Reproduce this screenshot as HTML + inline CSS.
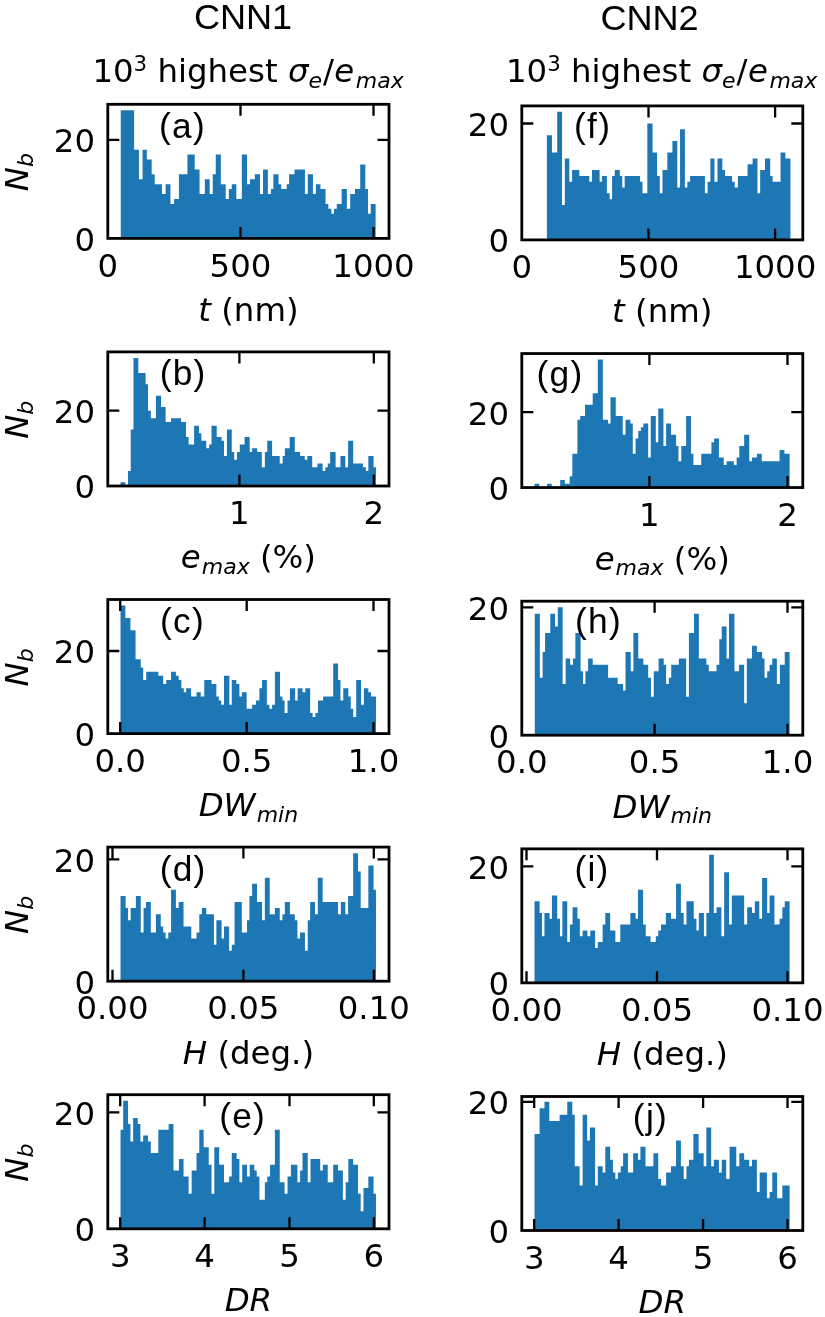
<!DOCTYPE html>
<html><head><meta charset="utf-8"><title>Histograms CNN1 CNN2</title>
<style>
html,body{margin:0;padding:0;background:#fff}
svg{display:block}
.dj{font-family:"DejaVu Sans","Liberation Sans",sans-serif;font-size:32.4px;fill:#000}
.ar{font-family:"Liberation Sans",sans-serif;fill:#000}
.it{font-style:italic}
.sb{font-size:22.0px;font-style:italic}
</style></head><body>
<svg width="825" height="1317" viewBox="0 0 825 1317">
<rect width="825" height="1317" fill="#fff"/>
<defs><filter id="soft" x="0" y="0" width="100%" height="100%" filterUnits="userSpaceOnUse"><feGaussianBlur stdDeviation="0.6"/></filter></defs>
<g filter="url(#soft)">
<text class="ar" transform="translate(243 29.2) scale(1.025 1)" font-size="35.2" text-anchor="middle">CNN1</text>
<text class="ar" transform="translate(649.5 29.5) scale(1.025 1)" font-size="35.2" text-anchor="middle">CNN2</text>
<text class="dj" x="92.4" y="82.2">10<tspan dy="-11" font-size="21.3">3</tspan><tspan dy="11"> highest </tspan><tspan class="it">σ</tspan><tspan class="sb" dy="5.6">e</tspan><tspan dy="-5.6" dx="1">/</tspan><tspan class="it" dx="0.4">e</tspan><tspan class="sb" dy="5.6" dx="1.6">max</tspan></text>
<text class="dj" x="506" y="82.2">10<tspan dy="-11" font-size="21.3">3</tspan><tspan dy="11"> highest </tspan><tspan class="it">σ</tspan><tspan class="sb" dy="5.6">e</tspan><tspan dy="-5.6" dx="1">/</tspan><tspan class="it" dx="0.4">e</tspan><tspan class="sb" dy="5.6" dx="1.6">max</tspan></text>
<g id="panel-a">
<path d="M120.76 238.4V110.22H134.09V238.4ZM134.09 238.4V149.66H138.94V238.4ZM138.94 238.4V179.24H142.58V238.4ZM142.58 238.4V149.66H146.82V238.4ZM146.82 238.4V159.52H151.67V238.4ZM151.67 238.4V174.31H154.7V238.4ZM154.7 238.4V184.17H161.97V238.4ZM161.97 238.4V194.03H165.61V238.4ZM165.61 238.4V184.17H170.45V238.4ZM170.45 238.4V203.89H174.09V238.4ZM174.09 238.4V198.96H178.94V238.4ZM178.94 238.4V174.31H187.42V238.4ZM187.42 238.4V154.59H194.7V238.4ZM194.7 238.4V169.38H199.55V238.4ZM199.55 238.4V194.03H204.85V238.4ZM204.85 238.4V179.24H209.7V238.4ZM209.7 238.4V194.03H212.73V238.4ZM212.73 238.4V174.31H215.76V238.4ZM215.76 238.4V154.59H220.85V238.4ZM220.85 238.4V184.17H225.7V238.4ZM225.7 238.4V198.96H228.85V238.4ZM228.85 238.4V189.1H231.76V238.4ZM231.76 238.4V184.17H236.36V238.4ZM236.36 238.4V198.96H241.82V238.4ZM241.82 238.4V154.59H247.03V238.4ZM247.03 238.4V184.17H249.94V238.4ZM249.94 238.4V179.24H254.79V238.4ZM254.79 238.4V174.31H260V238.4ZM260 238.4V194.03H263.03V238.4ZM263.03 238.4V169.38H267.88V238.4ZM267.88 238.4V194.03H270.91V238.4ZM270.91 238.4V189.1H273.33V238.4ZM273.33 238.4V174.31H278.55V238.4ZM278.55 238.4V184.17H281.21V238.4ZM281.21 238.4V189.1H286.67V238.4ZM286.67 238.4V184.17H289.09V238.4ZM289.09 238.4V174.31H294.55V238.4ZM294.55 238.4V169.38H304.94V238.4ZM304.94 238.4V194.03H307.73V238.4ZM307.73 238.4V174.31H312.94V238.4ZM312.94 238.4V194.03H315.85V238.4ZM315.85 238.4V184.17H320.45V238.4ZM320.45 238.4V189.1H325.55V238.4ZM325.55 238.4V203.89H328.33V238.4ZM328.33 238.4V208.82H331.36V238.4ZM331.36 238.4V213.75H334.03V238.4ZM334.03 238.4V208.82H336.82V238.4ZM336.82 238.4V203.89H341.67V238.4ZM341.67 238.4V189.1H346.88V238.4ZM346.88 238.4V208.82H350.15V238.4ZM350.15 238.4V194.03H355V238.4ZM355 238.4V189.1H360.21V238.4ZM360.21 238.4V164.45H365.3V238.4ZM365.3 238.4V189.1H367.97V238.4ZM367.97 238.4V213.75H370.76V238.4ZM370.76 238.4V203.89H375.61V238.4Z" fill="#1f77b4"/>
<path d="M240.5 238.4v-11.5M240.5 104.3v11.5M373.5 238.4v-11.5M373.5 104.3v11.5M107.8 139.8h11.5M389 139.8h-11.5" stroke="#000" stroke-width="2.3" fill="none"/>
<rect x="107.8" y="104.3" width="281.2" height="134.1" fill="none" stroke="#000" stroke-width="2.8"/>
<text class="dj" x="107.8" y="276.6" text-anchor="middle">0</text>
<text class="dj" x="240.5" y="276.6" text-anchor="middle">500</text>
<text class="dj" x="373.5" y="276.6" text-anchor="middle">1000</text>
<text class="dj" x="95" y="250.7" text-anchor="end">0</text>
<text class="dj" x="95" y="152.1" text-anchor="end">20</text>
<text class="dj" x="248.4" y="320.7" text-anchor="middle"><tspan class="it">t</tspan> (nm)</text>
<text class="dj" transform="translate(27.9 172.15) rotate(-90)" text-anchor="middle"><tspan class="it">N</tspan><tspan class="sb" dy="5.1">b</tspan></text>
<text class="ar" x="158.93" y="137.8" font-size="35.3" letter-spacing="1.3">(a)</text>
</g>
<g id="panel-b">
<path d="M120.52 486V482.24H125.36V486ZM125.36 486V486H128.03V486ZM128.03 486V470.94H130.7V486ZM130.7 486V429.52H133.48V486ZM133.48 486V357.99H138.33V486ZM138.33 486V373.05H145.61V486ZM145.61 486V384.34H148.03V486ZM148.03 486V410.7H150.82V486ZM150.82 486V418.23H155.91V486ZM155.91 486V395.64H161V486ZM161 486V406.94H165.61V486ZM165.61 486V422H171.06V486ZM171.06 486V418.23H181.12V486ZM181.12 486V422H185.97V486ZM185.97 486V437.06H188.64V486ZM188.64 486V444.58H194.09V486ZM194.09 486V425.76H198.94V486ZM198.94 486V433.29H201.36V486ZM201.36 486V440.82H206.3V486ZM206.3 486V448.35H209.09V486ZM209.09 486V444.58H211.52V486ZM211.52 486V425.76H216.73V486ZM216.73 486V437.06H221.58V486ZM221.58 486V440.82H224V486ZM224 486V455.88H226.91V486ZM226.91 486V429.52H231.76V486ZM231.76 486V452.12H234.18V486ZM234.18 486V459.64H236.97V486ZM236.97 486V452.12H239.76V486ZM239.76 486V444.58H244.61V486ZM244.61 486V437.06H249.7V486ZM249.7 486V452.12H252.12V486ZM252.12 486V448.35H257.21V486ZM257.21 486V452.12H261.82V486ZM261.82 486V467.18H264.85V486ZM264.85 486V452.12H267.27V486ZM267.27 486V440.82H272.12V486ZM272.12 486V455.88H279.76V486ZM279.76 486V463.41H282.67V486ZM282.67 486V455.88H284.85V486ZM284.85 486V448.35H289.7V486ZM289.7 486V437.06H294.79V486ZM294.79 486V452.12H300.09V486ZM300.09 486V455.88H304.7V486ZM304.7 486V459.64H307.36V486ZM307.36 486V455.88H312.21V486ZM312.21 486V467.18H317.42V486ZM317.42 486V463.41H322.64V486ZM322.64 486V470.94H325.3V486ZM325.3 486V467.18H327.73V486ZM327.73 486V463.41H330.15V486ZM330.15 486V452.12H335.61V486ZM335.61 486V467.18H340.45V486ZM340.45 486V455.88H345.3V486ZM345.3 486V467.18H348.09V486ZM348.09 486V440.82H353.18V486ZM353.18 486V463.41H362.88V486ZM362.88 486V467.18H365.91V486ZM365.91 486V470.94H368.33V486ZM368.33 486V455.88H373.55V486ZM373.55 486V467.18H375.97V486Z" fill="#1f77b4"/>
<path d="M239.4 486v-11.5M239.4 351.9v11.5M373.8 486v-11.5M373.8 351.9v11.5M107.8 410.7h11.5M389 410.7h-11.5" stroke="#000" stroke-width="2.3" fill="none"/>
<rect x="107.8" y="351.9" width="281.2" height="134.1" fill="none" stroke="#000" stroke-width="2.8"/>
<text class="dj" x="239.4" y="524.2" text-anchor="middle">1</text>
<text class="dj" x="373.8" y="524.2" text-anchor="middle">2</text>
<text class="dj" x="95" y="498.3" text-anchor="end">0</text>
<text class="dj" x="95" y="423" text-anchor="end">20</text>
<text class="dj" x="248.4" y="568.3" text-anchor="middle"><tspan class="it">e</tspan><tspan class="sb" dy="5.6" dx="1">max</tspan><tspan dy="-5.6"> (%)</tspan></text>
<text class="dj" transform="translate(27.9 419.75) rotate(-90)" text-anchor="middle"><tspan class="it">N</tspan><tspan class="sb" dy="5.1">b</tspan></text>
<text class="ar" x="159.63" y="385.4" font-size="35.3" letter-spacing="1.3">(b)</text>
</g>
<g id="panel-c">
<path d="M120.52 733.6V605.57H125.36V733.6ZM125.36 733.6V617.96H130.45V733.6ZM130.45 733.6V630.35H135.55V733.6ZM135.55 733.6V659.26H140.76V733.6ZM140.76 733.6V667.52H143.18V733.6ZM143.18 733.6V679.91H146.21V733.6ZM146.21 733.6V671.65H158.33V733.6ZM158.33 733.6V675.78H163.18V733.6ZM163.18 733.6V684.04H166.21V733.6ZM166.21 733.6V679.91H171.06V733.6ZM171.06 733.6V671.65H175.91V733.6ZM175.91 733.6V675.78H178.7V733.6ZM178.7 733.6V679.91H181.36V733.6ZM181.36 733.6V688.17H183.79V733.6ZM183.79 733.6V692.3H186.21V733.6ZM186.21 733.6V688.17H191.06V733.6ZM191.06 733.6V696.43H196.52V733.6ZM196.52 733.6V692.3H200.76V733.6ZM200.76 733.6V696.43H204.24V733.6ZM204.24 733.6V679.91H211.52V733.6ZM211.52 733.6V684.04H216.36V733.6ZM216.36 733.6V696.43H218.79V733.6ZM218.79 733.6V700.56H221.21V733.6ZM221.21 733.6V704.69H224V733.6ZM224 733.6V675.78H229.33V733.6ZM229.33 733.6V704.69H231.76V733.6ZM231.76 733.6V679.91H236.36V733.6ZM236.36 733.6V684.04H239.39V733.6ZM239.39 733.6V696.43H241.82V733.6ZM241.82 733.6V692.3H246.67V733.6ZM246.67 733.6V708.82H252.12V733.6ZM252.12 733.6V704.69H256V733.6ZM256 733.6V700.56H259.39V733.6ZM259.39 733.6V688.17H262.06V733.6ZM262.06 733.6V679.91H266.91V733.6ZM266.91 733.6V704.69H269.33V733.6ZM269.33 733.6V708.82H272.12V733.6ZM272.12 733.6V704.69H274.91V733.6ZM274.91 733.6V671.65H280V733.6ZM280 733.6V696.43H282.42V733.6ZM282.42 733.6V700.56H284.61V733.6ZM284.61 733.6V712.95H287.52V733.6ZM287.52 733.6V700.56H289.94V733.6ZM289.94 733.6V688.17H295.15V733.6ZM295.15 733.6V700.56H297.67V733.6ZM297.67 733.6V688.17H302.52V733.6ZM302.52 733.6V692.3H305.3V733.6ZM305.3 733.6V688.17H310.15V733.6ZM310.15 733.6V712.95H312.58V733.6ZM312.58 733.6V717.08H315.36V733.6ZM315.36 733.6V712.95H318.03V733.6ZM318.03 733.6V700.56H323.12V733.6ZM323.12 733.6V696.43H333.18V733.6ZM333.18 733.6V663.39H338.03V733.6ZM338.03 733.6V679.91H340.45V733.6ZM340.45 733.6V700.56H343.24V733.6ZM343.24 733.6V688.17H348.33V733.6ZM348.33 733.6V696.43H350.76V733.6ZM350.76 733.6V708.82H353.18V733.6ZM353.18 733.6V717.08H356.21V733.6ZM356.21 733.6V679.91H361.06V733.6ZM361.06 733.6V704.69H363.85V733.6ZM363.85 733.6V688.17H368.33V733.6ZM368.33 733.6V692.3H371.12V733.6ZM371.12 733.6V696.43H375.97V733.6Z" fill="#1f77b4"/>
<path d="M120.2 733.6v-11.5M120.2 599.5v11.5M246.7 733.6v-11.5M246.7 599.5v11.5M373.5 733.6v-11.5M373.5 599.5v11.5M107.8 651h11.5M389 651h-11.5" stroke="#000" stroke-width="2.3" fill="none"/>
<rect x="107.8" y="599.5" width="281.2" height="134.1" fill="none" stroke="#000" stroke-width="2.8"/>
<text class="dj" x="120.2" y="771.8" text-anchor="middle">0.0</text>
<text class="dj" x="246.7" y="771.8" text-anchor="middle">0.5</text>
<text class="dj" x="373.5" y="771.8" text-anchor="middle">1.0</text>
<text class="dj" x="95" y="745.9" text-anchor="end">0</text>
<text class="dj" x="95" y="663.3" text-anchor="end">20</text>
<text class="dj" x="248.4" y="815.9" text-anchor="middle"><tspan class="it">DW</tspan><tspan class="sb" dy="5.6" dx="1">min</tspan></text>
<text class="dj" transform="translate(27.9 667.35) rotate(-90)" text-anchor="middle"><tspan class="it">N</tspan><tspan class="sb" dy="5.1">b</tspan></text>
<text class="ar" x="159.92" y="633" font-size="35.3" letter-spacing="1.3">(c)</text>
</g>
<g id="panel-d">
<path d="M120.52 981.2V895.94H125.61V981.2ZM125.61 981.2V908.12H128.03V981.2ZM128.03 981.2V920.3H130.7V981.2ZM130.7 981.2V908.12H135.91V981.2ZM135.91 981.2V895.94H140.76V981.2ZM140.76 981.2V932.48H143.55V981.2ZM143.55 981.2V908.12H145.97V981.2ZM145.97 981.2V902.03H150.82V981.2ZM150.82 981.2V932.48H155.91V981.2ZM155.91 981.2V914.21H160.76V981.2ZM160.76 981.2V926.39H163.18V981.2ZM163.18 981.2V932.48H165.61V981.2ZM165.61 981.2V938.57H168.27V981.2ZM168.27 981.2V932.48H171.06V981.2ZM171.06 981.2V889.85H175.91V981.2ZM175.91 981.2V908.12H178.7V981.2ZM178.7 981.2V902.03H183.55V981.2ZM183.55 981.2V926.39H191.3V981.2ZM191.3 981.2V938.57H196.52V981.2ZM196.52 981.2V932.48H199.3V981.2ZM199.3 981.2V914.21H201.97V981.2ZM201.97 981.2V908.12H206.3V981.2ZM206.3 981.2V914.21H213.94V981.2ZM213.94 981.2V944.66H216.36V981.2ZM216.36 981.2V920.3H221.58V981.2ZM221.58 981.2V938.57H224V981.2ZM224 981.2V926.39H229.09V981.2ZM229.09 981.2V950.75H231.76V981.2ZM231.76 981.2V944.66H234.55V981.2ZM234.55 981.2V902.03H241.82V981.2ZM241.82 981.2V932.48H247.03V981.2ZM247.03 981.2V920.3H249.45V981.2ZM249.45 981.2V895.94H252.12V981.2ZM252.12 981.2V883.76H256.97V981.2ZM256.97 981.2V902.03H262.06V981.2ZM262.06 981.2V920.3H264.85V981.2ZM264.85 981.2V877.67H269.7V981.2ZM269.7 981.2V914.21H274.91V981.2ZM274.91 981.2V908.12H279.76V981.2ZM279.76 981.2V920.3H282.42V981.2ZM282.42 981.2V914.21H284.85V981.2ZM284.85 981.2V902.03H289.94V981.2ZM289.94 981.2V914.21H294.79V981.2ZM294.79 981.2V920.3H297.42V981.2ZM297.42 981.2V938.57H300.09V981.2ZM300.09 981.2V932.48H304.94V981.2ZM304.94 981.2V950.75H307.73V981.2ZM307.73 981.2V920.3H310.15V981.2ZM310.15 981.2V902.03H315V981.2ZM315 981.2V914.21H317.79V981.2ZM317.79 981.2V877.67H322.64V981.2ZM322.64 981.2V902.03H338.03V981.2ZM338.03 981.2V914.21H340.82V981.2ZM340.82 981.2V902.03H345.3V981.2ZM345.3 981.2V914.21H348.09V981.2ZM348.09 981.2V895.94H353.18V981.2ZM353.18 981.2V853.31H358.03V981.2ZM358.03 981.2V871.58H360.7V981.2ZM360.7 981.2V908.12H368.33V981.2ZM368.33 981.2V865.49H373.55V981.2ZM373.55 981.2V889.85H375.97V981.2Z" fill="#1f77b4"/>
<path d="M112.5 981.2v-11.5M112.5 847.1v11.5M243.4 981.2v-11.5M243.4 847.1v11.5M373.8 981.2v-11.5M373.8 847.1v11.5M107.8 859.4h11.5M389 859.4h-11.5" stroke="#000" stroke-width="2.3" fill="none"/>
<rect x="107.8" y="847.1" width="281.2" height="134.1" fill="none" stroke="#000" stroke-width="2.8"/>
<text class="dj" x="112.5" y="1019.4" text-anchor="middle">0.00</text>
<text class="dj" x="243.4" y="1019.4" text-anchor="middle">0.05</text>
<text class="dj" x="373.8" y="1019.4" text-anchor="middle">0.10</text>
<text class="dj" x="95" y="993.5" text-anchor="end">0</text>
<text class="dj" x="95" y="871.7" text-anchor="end">20</text>
<text class="dj" x="248.4" y="1063.5" text-anchor="middle"><tspan class="it">H</tspan> (deg.)</text>
<text class="dj" transform="translate(27.9 914.95) rotate(-90)" text-anchor="middle"><tspan class="it">N</tspan><tspan class="sb" dy="5.1">b</tspan></text>
<text class="ar" x="159.63" y="880.6" font-size="35.3" letter-spacing="1.3">(d)</text>
</g>
<g id="panel-e">
<path d="M120.52 1228.8V1129.77H123.18V1228.8ZM123.18 1228.8V1100.65H128.03V1228.8ZM128.03 1228.8V1123.95H130.45V1228.8ZM130.45 1228.8V1141.42H133.12V1228.8ZM133.12 1228.8V1118.12H137.73V1228.8ZM137.73 1228.8V1123.95H140.39V1228.8ZM140.39 1228.8V1141.42H143.18V1228.8ZM143.18 1228.8V1135.6H148.03V1228.8ZM148.03 1228.8V1141.42H150.82V1228.8ZM150.82 1228.8V1153.08H158.33V1228.8ZM158.33 1228.8V1129.77H168.64V1228.8ZM168.64 1228.8V1123.95H173.48V1228.8ZM173.48 1228.8V1170.55H178.94V1228.8ZM178.94 1228.8V1158.9H183.55V1228.8ZM183.55 1228.8V1176.38H188.64V1228.8ZM188.64 1228.8V1193.85H191.67V1228.8ZM191.67 1228.8V1170.55H196.52V1228.8ZM196.52 1228.8V1153.08H199.3V1228.8ZM199.3 1228.8V1129.77H203.64V1228.8ZM203.64 1228.8V1147.25H208.73V1228.8ZM208.73 1228.8V1164.72H211.52V1228.8ZM211.52 1228.8V1193.85H214.3V1228.8ZM214.3 1228.8V1147.25H219.15V1228.8ZM219.15 1228.8V1164.72H224V1228.8ZM224 1228.8V1182.2H229.09V1228.8ZM229.09 1228.8V1176.38H231.76V1228.8ZM231.76 1228.8V1153.08H236.61V1228.8ZM236.61 1228.8V1158.9H239.39V1228.8ZM239.39 1228.8V1182.2H242.18V1228.8ZM242.18 1228.8V1164.72H247.03V1228.8ZM247.03 1228.8V1176.38H249.7V1228.8ZM249.7 1228.8V1164.72H254.3V1228.8ZM254.3 1228.8V1170.55H256.73V1228.8ZM256.73 1228.8V1176.38H259.39V1228.8ZM259.39 1228.8V1199.67H264.85V1228.8ZM264.85 1228.8V1182.2H267.27V1228.8ZM267.27 1228.8V1176.38H270.06V1228.8ZM270.06 1228.8V1164.72H274.91V1228.8ZM274.91 1228.8V1129.77H279.76V1228.8ZM279.76 1228.8V1182.2H284.61V1228.8ZM284.61 1228.8V1193.85H287.52V1228.8ZM287.52 1228.8V1176.38H290.91V1228.8ZM290.91 1228.8V1164.72H296.97V1228.8ZM296.97 1228.8V1170.55H297V1228.8ZM297 1228.8V1164.72H297.42V1228.8ZM297.42 1228.8V1182.2H300.09V1228.8ZM300.09 1228.8V1170.55H302.52V1228.8ZM302.52 1228.8V1153.08H307.73V1228.8ZM307.73 1228.8V1182.2H310.52V1228.8ZM310.52 1228.8V1158.9H320.21V1228.8ZM320.21 1228.8V1170.55H322.88V1228.8ZM322.88 1228.8V1164.72H327.73V1228.8ZM327.73 1228.8V1182.2H333.18V1228.8ZM333.18 1228.8V1164.72H338.03V1228.8ZM338.03 1228.8V1170.55H342.88V1228.8ZM342.88 1228.8V1199.67H345.67V1228.8ZM345.67 1228.8V1182.2H348.33V1228.8ZM348.33 1228.8V1158.9H353.18V1228.8ZM353.18 1228.8V1164.72H358.03V1228.8ZM358.03 1228.8V1193.85H360.7V1228.8ZM360.7 1228.8V1211.33H363.48V1228.8ZM363.48 1228.8V1188.02H368.33V1228.8ZM368.33 1228.8V1176.38H373.55V1228.8ZM373.55 1228.8V1193.85H375.97V1228.8Z" fill="#1f77b4"/>
<path d="M120.2 1228.8v-11.5M120.2 1094.7v11.5M204.6 1228.8v-11.5M204.6 1094.7v11.5M289.5 1228.8v-11.5M289.5 1094.7v11.5M373.8 1228.8v-11.5M373.8 1094.7v11.5M107.8 1112.3h11.5M389 1112.3h-11.5" stroke="#000" stroke-width="2.3" fill="none"/>
<rect x="107.8" y="1094.7" width="281.2" height="134.1" fill="none" stroke="#000" stroke-width="2.8"/>
<text class="dj" x="120.2" y="1267" text-anchor="middle">3</text>
<text class="dj" x="204.6" y="1267" text-anchor="middle">4</text>
<text class="dj" x="289.5" y="1267" text-anchor="middle">5</text>
<text class="dj" x="373.8" y="1267" text-anchor="middle">6</text>
<text class="dj" x="95" y="1241.1" text-anchor="end">0</text>
<text class="dj" x="95" y="1124.6" text-anchor="end">20</text>
<text class="dj" x="248.4" y="1311.1" text-anchor="middle"><tspan class="it">DR</tspan></text>
<text class="dj" transform="translate(27.9 1162.55) rotate(-90)" text-anchor="middle"><tspan class="it">N</tspan><tspan class="sb" dy="5.1">b</tspan></text>
<text class="ar" x="219.13" y="1128.2" font-size="35.3" letter-spacing="1.3">(e)</text>
</g>
<g id="panel-f">
<path d="M546.88 239.9V135.14H551.97V239.9ZM551.97 239.9V152.6H557.18V239.9ZM557.18 239.9V111.86H562.03V239.9ZM562.03 239.9V204.98H564.82V239.9ZM564.82 239.9V158.42H569.3V239.9ZM569.3 239.9V181.7H572.09V239.9ZM572.09 239.9V170.06H579.36V239.9ZM579.36 239.9V175.88H589.3V239.9ZM589.3 239.9V181.7H591.97V239.9ZM591.97 239.9V170.06H599.61V239.9ZM599.61 239.9V181.7H602.03V239.9ZM602.03 239.9V175.88H606.88V239.9ZM606.88 239.9V193.34H609.67V239.9ZM609.67 239.9V199.16H612.09V239.9ZM612.09 239.9V175.88H614.76V239.9ZM614.76 239.9V170.06H619.82V239.9ZM619.82 239.9V175.88H622.24V239.9ZM622.24 239.9V187.52H624.67V239.9ZM624.67 239.9V175.88H640.06V239.9ZM640.06 239.9V181.7H642.48V239.9ZM642.48 239.9V193.34H647.33V239.9ZM647.33 239.9V123.5H652.55V239.9ZM652.55 239.9V152.6H657.03V239.9ZM657.03 239.9V175.88H659.82V239.9ZM659.82 239.9V193.34H662.48V239.9ZM662.48 239.9V170.06H667.33V239.9ZM667.33 239.9V152.6H672.42V239.9ZM672.42 239.9V140.96H677.27V239.9ZM677.27 239.9V187.52H680.06V239.9ZM680.06 239.9V129.32H684.91V239.9ZM684.91 239.9V187.52H687.33V239.9ZM687.33 239.9V181.7H690.12V239.9ZM690.12 239.9V175.88H704.91V239.9ZM704.91 239.9V193.34H707.58V239.9ZM707.58 239.9V181.7H710.36V239.9ZM710.36 239.9V158.42H714.45V239.9ZM714.45 239.9V181.7H717.48V239.9ZM717.48 239.9V158.42H722.33V239.9ZM722.33 239.9V170.06H725V239.9ZM725 239.9V175.88H732.03V239.9ZM732.03 239.9V181.7H734.7V239.9ZM734.7 239.9V187.52H737.85V239.9ZM737.85 239.9V175.88H747.55V239.9ZM747.55 239.9V164.24H752.64V239.9ZM752.64 239.9V158.42H757.48V239.9ZM757.48 239.9V193.34H760.15V239.9ZM760.15 239.9V170.06H765V239.9ZM765 239.9V158.42H770.21V239.9ZM770.21 239.9V175.88H772.64V239.9ZM772.64 239.9V181.7H780.52V239.9ZM780.52 239.9V152.6H785.36V239.9ZM785.36 239.9V158.42H790.45V239.9Z" fill="#1f77b4"/>
<path d="M648.5 239.9v-11.5M648.5 105.9v11.5M775.1 239.9v-11.5M775.1 105.9v11.5M521.8 123.5h11.5M802.8 123.5h-11.5" stroke="#000" stroke-width="2.3" fill="none"/>
<rect x="521.8" y="105.9" width="281" height="134" fill="none" stroke="#000" stroke-width="2.8"/>
<text class="dj" x="521.8" y="278.1" text-anchor="middle">0</text>
<text class="dj" x="648.5" y="278.1" text-anchor="middle">500</text>
<text class="dj" x="775.1" y="278.1" text-anchor="middle">1000</text>
<text class="dj" x="509" y="252.2" text-anchor="end">0</text>
<text class="dj" x="509" y="135.8" text-anchor="end">20</text>
<text class="dj" x="662.3" y="322.2" text-anchor="middle"><tspan class="it">t</tspan> (nm)</text>
<text class="ar" x="574.04" y="138" font-size="35.3" letter-spacing="1.3">(f)</text>
</g>
<g id="panel-g">
<path d="M534.52 487.55V483.78H539.36V487.55ZM539.36 487.55V487.55H547.12V487.55ZM547.12 487.55V483.78H551.73V487.55ZM551.73 487.55V487.55H560.21V487.55ZM560.21 487.55V480.01H564.82V487.55ZM564.82 487.55V483.78H569.67V487.55ZM569.67 487.55V476.25H572.33V487.55ZM572.33 487.55V453.64H577.42V487.55ZM577.42 487.55V419.74H580.21V487.55ZM580.21 487.55V415.97H585.06V487.55ZM585.06 487.55V404.66H592.7V487.55ZM592.7 487.55V393.36H597.79V487.55ZM597.79 487.55V359.45H602.88V487.55ZM602.88 487.55V419.74H608.09V487.55ZM608.09 487.55V423.5H610.52V487.55ZM610.52 487.55V397.13H615.73V487.55ZM615.73 487.55V415.97H622.73V487.55ZM622.73 487.55V434.81H625.52V487.55ZM625.52 487.55V419.74H630.36V487.55ZM630.36 487.55V423.5H632.79V487.55ZM632.79 487.55V453.64H635.58V487.55ZM635.58 487.55V438.57H638.24V487.55ZM638.24 487.55V431.04H640.91V487.55ZM640.91 487.55V427.27H643.33V487.55ZM643.33 487.55V423.5H648.18V487.55ZM648.18 487.55V457.41H650.73V487.55ZM650.73 487.55V415.97H655.82V487.55ZM655.82 487.55V442.34H658.24V487.55ZM658.24 487.55V408.43H663.45V487.55ZM663.45 487.55V446.11H666.12V487.55ZM666.12 487.55V423.5H670.97V487.55ZM670.97 487.55V434.81H676.06V487.55ZM676.06 487.55V446.11H678.48V487.55ZM678.48 487.55V461.18H681.27V487.55ZM681.27 487.55V446.11H686.12V487.55ZM686.12 487.55V415.97H690.97V487.55ZM690.97 487.55V453.64H693.39V487.55ZM693.39 487.55V464.94H701.27V487.55ZM701.27 487.55V453.64H710.97V487.55ZM710.97 487.55V438.57H711V487.55ZM711 487.55V453.64H711.42V487.55ZM711.42 487.55V442.34H714.09V487.55ZM714.09 487.55V438.57H718.94V487.55ZM718.94 487.55V457.41H723.79V487.55ZM723.79 487.55V464.94H726.58V487.55ZM726.58 487.55V461.18H733.85V487.55ZM733.85 487.55V464.94H736.64V487.55ZM736.64 487.55V457.41H739.3V487.55ZM739.3 487.55V446.11H744.15V487.55ZM744.15 487.55V434.81H749.24V487.55ZM749.24 487.55V461.18H752.03V487.55ZM752.03 487.55V457.41H756.88V487.55ZM756.88 487.55V453.64H761.73V487.55ZM761.73 487.55V461.18H779.55V487.55ZM779.55 487.55V449.88H784.39V487.55ZM784.39 487.55V453.64H789.61V487.55Z" fill="#1f77b4"/>
<path d="M649.4 487.55v-11.5M649.4 353.55v11.5M787.5 487.55v-11.5M787.5 353.55v11.5M521.8 412.2h11.5M802.8 412.2h-11.5" stroke="#000" stroke-width="2.3" fill="none"/>
<rect x="521.8" y="353.55" width="281" height="134" fill="none" stroke="#000" stroke-width="2.8"/>
<text class="dj" x="649.4" y="525.75" text-anchor="middle">1</text>
<text class="dj" x="787.5" y="525.75" text-anchor="middle">2</text>
<text class="dj" x="509" y="499.85" text-anchor="end">0</text>
<text class="dj" x="509" y="424.5" text-anchor="end">20</text>
<text class="dj" x="662.3" y="569.85" text-anchor="middle"><tspan class="it">e</tspan><tspan class="sb" dy="5.6" dx="1">max</tspan><tspan dy="-5.6"> (%)</tspan></text>
<text class="ar" x="536.43" y="385.65" font-size="35.3" letter-spacing="1.3">(g)</text>
</g>
<g id="panel-h">
<path d="M534.76 735.2V613.69H539.85V735.2ZM539.85 735.2V677.64H542.64V735.2ZM542.64 735.2V652.06H545.06V735.2ZM545.06 735.2V632.88H550.27V735.2ZM550.27 735.2V613.69H555.12V735.2ZM555.12 735.2V626.48H557.79V735.2ZM557.79 735.2V607.3H562.64V735.2ZM562.64 735.2V684.04H565.67V735.2ZM565.67 735.2V658.46H570.15V735.2ZM570.15 735.2V664.86H572.94V735.2ZM572.94 735.2V658.46H575.36V735.2ZM575.36 735.2V632.88H580.58V735.2ZM580.58 735.2V671.25H583V735.2ZM583 735.2V684.04H585.42V735.2ZM585.42 735.2V671.25H588.09V735.2ZM588.09 735.2V658.46H592.7V735.2ZM592.7 735.2V664.86H608.09V735.2ZM608.09 735.2V677.64H617.64V735.2ZM617.64 735.2V684.04H623.09V735.2ZM623.09 735.2V690.44H625.52V735.2ZM625.52 735.2V652.06H630.73V735.2ZM630.73 735.2V671.25H633.39V735.2ZM633.39 735.2V632.88H638.24V735.2ZM638.24 735.2V658.46H643.33V735.2ZM643.33 735.2V664.86H648.18V735.2ZM648.18 735.2V677.64H650.97V735.2ZM650.97 735.2V696.83H653.76V735.2ZM653.76 735.2V671.25H658.61V735.2ZM658.61 735.2V658.46H663.7V735.2ZM663.7 735.2V664.86H666.12V735.2ZM666.12 735.2V684.04H668.79V735.2ZM668.79 735.2V677.64H671.21V735.2ZM671.21 735.2V664.86H678.85V735.2ZM678.85 735.2V658.46H686.12V735.2ZM686.12 735.2V696.83H688.91V735.2ZM688.91 735.2V632.88H694V735.2ZM694 735.2V613.69H698.85V735.2ZM698.85 735.2V658.46H706.36V735.2ZM706.36 735.2V664.86H708.79V735.2ZM708.79 735.2V671.25H716.52V735.2ZM716.52 735.2V664.86H719.3V735.2ZM719.3 735.2V639.27H721.73V735.2ZM721.73 735.2V626.48H726.58V735.2ZM726.58 735.2V658.46H729V735.2ZM729 735.2V613.69H734.45V735.2ZM734.45 735.2V671.25H739.06V735.2ZM739.06 735.2V664.86H744.15V735.2ZM744.15 735.2V703.23H746.82V735.2ZM746.82 735.2V658.46H752.03V735.2ZM752.03 735.2V645.67H756.88V735.2ZM756.88 735.2V652.06H762.09V735.2ZM762.09 735.2V658.46H764.52V735.2ZM764.52 735.2V677.64H767.18V735.2ZM767.18 735.2V671.25H769.61V735.2ZM769.61 735.2V664.86H772.27V735.2ZM772.27 735.2V658.46H776.88V735.2ZM776.88 735.2V684.04H779.91V735.2ZM779.91 735.2V664.86H784.76V735.2ZM784.76 735.2V652.06H789.61V735.2Z" fill="#1f77b4"/>
<path d="M654.6 735.2v-11.5M654.6 601.2v11.5M787.5 735.2v-11.5M787.5 601.2v11.5M521.8 607.3h11.5M802.8 607.3h-11.5" stroke="#000" stroke-width="2.3" fill="none"/>
<rect x="521.8" y="601.2" width="281" height="134" fill="none" stroke="#000" stroke-width="2.8"/>
<text class="dj" x="521.8" y="773.4" text-anchor="middle">0.0</text>
<text class="dj" x="654.6" y="773.4" text-anchor="middle">0.5</text>
<text class="dj" x="787.5" y="773.4" text-anchor="middle">1.0</text>
<text class="dj" x="509" y="747.5" text-anchor="end">0</text>
<text class="dj" x="509" y="619.6" text-anchor="end">20</text>
<text class="dj" x="662.3" y="817.5" text-anchor="middle"><tspan class="it">DW</tspan><tspan class="sb" dy="5.6" dx="1">min</tspan></text>
<text class="ar" x="574.93" y="633.3" font-size="35.3" letter-spacing="1.3">(h)</text>
</g>
<g id="panel-i">
<path d="M534.52 982.85V901.34H539.61V982.85ZM539.61 982.85V912.98H542.03V982.85ZM542.03 982.85V936.27H544.45V982.85ZM544.45 982.85V912.98H549.55V982.85ZM549.55 982.85V918.8H551.97V982.85ZM551.97 982.85V895.51H557.18V982.85ZM557.18 982.85V918.8H559.97V982.85ZM559.97 982.85V936.27H562.39V982.85ZM562.39 982.85V901.34H567.24V982.85ZM567.24 982.85V942.09H569.91V982.85ZM569.91 982.85V924.62H572.58V982.85ZM572.58 982.85V907.16H577.42V982.85ZM577.42 982.85V918.8H579.85V982.85ZM579.85 982.85V936.27H582.64V982.85ZM582.64 982.85V930.45H587.48V982.85ZM587.48 982.85V936.27H590.27V982.85ZM590.27 982.85V930.45H595.12V982.85ZM595.12 982.85V947.91H597.79V982.85ZM597.79 982.85V942.09H602.64V982.85ZM602.64 982.85V924.62H605.3V982.85ZM605.3 982.85V912.98H610.15V982.85ZM610.15 982.85V930.45H615.36V982.85ZM615.36 982.85V942.09H620.3V982.85ZM620.3 982.85V924.62H630.36V982.85ZM630.36 982.85V912.98H635.58V982.85ZM635.58 982.85V918.8H638V982.85ZM638 982.85V889.69H643.09V982.85ZM643.09 982.85V924.62H645.76V982.85ZM645.76 982.85V936.27H650.61V982.85ZM650.61 982.85V942.09H655.82V982.85ZM655.82 982.85V936.27H658.24V982.85ZM658.24 982.85V930.45H661.03V982.85ZM661.03 982.85V924.62H665.88V982.85ZM665.88 982.85V912.98H670.97V982.85ZM670.97 982.85V918.8H676.06V982.85ZM676.06 982.85V883.87H680.91V982.85ZM680.91 982.85V912.98H683.7V982.85ZM683.7 982.85V924.62H686.48V982.85ZM686.48 982.85V901.34H693.76V982.85ZM693.76 982.85V918.8H696.42V982.85ZM696.42 982.85V930.45H698.85V982.85ZM698.85 982.85V912.98H703.94V982.85ZM703.94 982.85V936.27H706.36V982.85ZM706.36 982.85V912.98H709.15V982.85ZM709.15 982.85V854.75H713.85V982.85ZM713.85 982.85V912.98H716.52V982.85ZM716.52 982.85V907.16H721.36V982.85ZM721.36 982.85V936.27H724.15V982.85ZM724.15 982.85V872.22H729V982.85ZM729 982.85V924.62H731.79V982.85ZM731.79 982.85V895.51H744.15V982.85ZM744.15 982.85V924.62H747.18V982.85ZM747.18 982.85V907.16H752.03V982.85ZM752.03 982.85V912.98H754.82V982.85ZM754.82 982.85V901.34H759.3V982.85ZM759.3 982.85V918.8H762.09V982.85ZM762.09 982.85V878.04H767.18V982.85ZM767.18 982.85V912.98H769.61V982.85ZM769.61 982.85V895.51H774.45V982.85ZM774.45 982.85V924.62H779.55V982.85ZM779.55 982.85V918.8H782.33V982.85ZM782.33 982.85V907.16H784.76V982.85ZM784.76 982.85V901.34H789.61V982.85Z" fill="#1f77b4"/>
<path d="M526.5 982.85v-11.5M526.5 848.85v11.5M657 982.85v-11.5M657 848.85v11.5M787.5 982.85v-11.5M787.5 848.85v11.5M521.8 866.4h11.5M802.8 866.4h-11.5" stroke="#000" stroke-width="2.3" fill="none"/>
<rect x="521.8" y="848.85" width="281" height="134" fill="none" stroke="#000" stroke-width="2.8"/>
<text class="dj" x="526.5" y="1021.05" text-anchor="middle">0.00</text>
<text class="dj" x="657" y="1021.05" text-anchor="middle">0.05</text>
<text class="dj" x="787.5" y="1021.05" text-anchor="middle">0.10</text>
<text class="dj" x="509" y="995.15" text-anchor="end">0</text>
<text class="dj" x="509" y="878.7" text-anchor="end">20</text>
<text class="dj" x="662.3" y="1065.15" text-anchor="middle"><tspan class="it">H</tspan> (deg.)</text>
<text class="ar" x="574.43" y="880.95" font-size="35.3" letter-spacing="1.3">(i)</text>
</g>
<g id="panel-j">
<path d="M534.52 1230.5V1133.97H539.61V1230.5ZM539.61 1230.5V1108.23H544.45V1230.5ZM544.45 1230.5V1101.8H549.3V1230.5ZM549.3 1230.5V1121.11H559.61V1230.5ZM559.61 1230.5V1114.67H567.24V1230.5ZM567.24 1230.5V1101.8H572.33V1230.5ZM572.33 1230.5V1114.67H574.76V1230.5ZM574.76 1230.5V1166.15H579.61V1230.5ZM579.61 1230.5V1185.45H582.64V1230.5ZM582.64 1230.5V1114.67H587.12V1230.5ZM587.12 1230.5V1140.41H589.91V1230.5ZM589.91 1230.5V1127.54H595.12V1230.5ZM595.12 1230.5V1185.45H597.79V1230.5ZM597.79 1230.5V1166.15H602.64V1230.5ZM602.64 1230.5V1172.59H605.3V1230.5ZM605.3 1230.5V1146.85H610.15V1230.5ZM610.15 1230.5V1159.71H612.94V1230.5ZM612.94 1230.5V1172.59H615.36V1230.5ZM615.36 1230.5V1179.02H617.88V1230.5ZM617.88 1230.5V1172.59H620.67V1230.5ZM620.67 1230.5V1166.15H623.09V1230.5ZM623.09 1230.5V1153.28H627.94V1230.5ZM627.94 1230.5V1172.59H633.15V1230.5ZM633.15 1230.5V1153.28H638V1230.5ZM638 1230.5V1159.71H640.42V1230.5ZM640.42 1230.5V1146.85H645.52V1230.5ZM645.52 1230.5V1166.15H653.39V1230.5ZM653.39 1230.5V1153.28H658.24V1230.5ZM658.24 1230.5V1179.02H661.03V1230.5ZM661.03 1230.5V1185.45H666.12V1230.5ZM666.12 1230.5V1172.59H670.97V1230.5ZM670.97 1230.5V1166.15H676.06V1230.5ZM676.06 1230.5V1140.41H680.91V1230.5ZM680.91 1230.5V1166.15H683.7V1230.5ZM683.7 1230.5V1179.02H686.48V1230.5ZM686.48 1230.5V1166.15H688.91V1230.5ZM688.91 1230.5V1159.71H693.39V1230.5ZM693.39 1230.5V1133.97H698.61V1230.5ZM698.61 1230.5V1153.28H703.7V1230.5ZM703.7 1230.5V1166.15H706.36V1230.5ZM706.36 1230.5V1127.54H711.18V1230.5ZM711.18 1230.5V1166.15H713.85V1230.5ZM713.85 1230.5V1159.71H718.94V1230.5ZM718.94 1230.5V1172.59H721.73V1230.5ZM721.73 1230.5V1159.71H726.21V1230.5ZM726.21 1230.5V1179.02H729.61V1230.5ZM729.61 1230.5V1146.85H736.27V1230.5ZM736.27 1230.5V1166.15H739.3V1230.5ZM739.3 1230.5V1153.28H744.15V1230.5ZM744.15 1230.5V1159.71H749.24V1230.5ZM749.24 1230.5V1166.15H752.03V1230.5ZM752.03 1230.5V1159.71H756.88V1230.5ZM756.88 1230.5V1191.89H759.67V1230.5ZM759.67 1230.5V1172.59H766.94V1230.5ZM766.94 1230.5V1198.33H769.61V1230.5ZM769.61 1230.5V1191.89H772.27V1230.5ZM772.27 1230.5V1172.59H777.12V1230.5ZM777.12 1230.5V1198.33H782.33V1230.5ZM782.33 1230.5V1185.45H789.61V1230.5Z" fill="#1f77b4"/>
<path d="M534.2 1230.5v-11.5M534.2 1096.5v11.5M618.6 1230.5v-11.5M618.6 1096.5v11.5M703.1 1230.5v-11.5M703.1 1096.5v11.5M787.5 1230.5v-11.5M787.5 1096.5v11.5M521.8 1101.8h11.5M802.8 1101.8h-11.5" stroke="#000" stroke-width="2.3" fill="none"/>
<rect x="521.8" y="1096.5" width="281" height="134" fill="none" stroke="#000" stroke-width="2.8"/>
<text class="dj" x="534.2" y="1268.7" text-anchor="middle">3</text>
<text class="dj" x="618.6" y="1268.7" text-anchor="middle">4</text>
<text class="dj" x="703.1" y="1268.7" text-anchor="middle">5</text>
<text class="dj" x="787.5" y="1268.7" text-anchor="middle">6</text>
<text class="dj" x="509" y="1242.8" text-anchor="end">0</text>
<text class="dj" x="509" y="1114.1" text-anchor="end">20</text>
<text class="dj" x="662.3" y="1312.8" text-anchor="middle"><tspan class="it">DR</tspan></text>
<text class="ar" x="632.83" y="1128.6" font-size="35.3" letter-spacing="1.3">(j)</text>
</g>
</g>
</svg>
</body></html>
